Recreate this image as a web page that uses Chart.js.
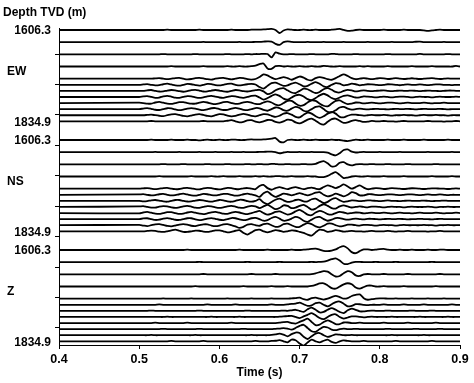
<!DOCTYPE html>
<html>
<head>
<meta charset="utf-8">
<script src="https://cdn.jsdelivr.net/npm/chart.js@4"></script>
<style>
    html, body { margin: 0; padding: 0; background: #fff; }
</style>
</head>
<body>
<canvas id="chart" width="474" height="383"></canvas>
<script>
// sampling of the traces (seconds); each trace is flat from 0.4 s up to sampleStart
const sampleStart = 0.5;
const sampleStep = 0.005;

const components = ['EW', 'NS', 'Z'];
const depths = [1606.3, 1636.8, 1667.3, 1697.7, 1728.2, 1743.5, 1758.7, 1774.0, 1789.2, 1804.4, 1819.7, 1834.9];
const timeTicks = [0.4, 0.5, 0.6, 0.7, 0.8, 0.9];
const depthTicks = [1666.4, 1742.6, 1818.8, 1895.0, 1971.2, 2047.4, 2123.6, 2199.8, 2276.0, 2352.2];

// amplitudes (positive = up), one row per receiver, 81 samples 0.5 .. 0.9 s
const ewTraces = [
    [0,0,0,0,0,0,0,0.3,0,0,  0,0,0,0,0,0.3,0,0,0,0,  0,0,0,0.3,0,0,0,0,0.3,0.4,  0.3,0.5,0.8,1,0,-2.8,-0.5,0.6,0.3,0,  0,0.3,0,0,0.4,0,0,0,0.3,0.6,  1,0,-0.8,-0.6,0,0.3,0,0,0,0,  0,0.3,0,0,0,0,0.3,0,0,0,  0,-0.4,-0.9,-0.3,0,0.3,0,0,0,0,  0],
    [0,0,0,0,0,0,0,0,0,0,  0,0,0,0,0,0,0.3,0,0,0,  0,0,0,0,0,0.3,0,0,0,0.3,  0.3,0.5,0.8,0.6,-1.5,-2.5,0,0.8,0.3,0,  0,0,0.3,0,0,0,0.3,0,0,0,  0,0.3,0,0,0,0,0,0.3,0,0,  0,0,0,0.3,0,0,0,0,0,0.4,  0.5,0,0,0,0,0,0.3,0,0,0,  0],
    [0,0,0,0,0,0,0.3,0,0,0,  0,0,0,0,0.3,0,0,0,0,0,  0,0,0.3,0,0,0,0,0.3,0,0.3,  0.3,0.5,0.3,-2.8,1.8,0.6,0,0,0.3,0,  0,0,0,0.3,0,0,0,0,0.5,0.3,  0,0,0,0,0.3,0,0,0,0,0,  0,0,0.3,0,0,0,0,0,0,0,  0.4,0,0,0,0,0,0,0.3,0,0,  0],
    [0,0,0,0,0,0,0,0,0.3,0,  0,0,0,0,0,0,0.3,0,0,0,  0,0,0.3,0,0,0.3,0,0,0.3,0.8,  2.2,2.8,-1.8,-2.2,0.3,0.6,0,0.3,0,0,  0.3,0,0,0.4,0,0,0.5,0.3,0,0,  0.3,0,0,0,0,0.3,0,0.4,0,0,  0,0,0.3,0,0,0,0,0,0.3,0,  0,0,0,0.3,0,0,0,0,0,0.5,  0],
    [0,0,0,0,0.3,0.5,0,-0.5,0,0.6,  0.8,0,-0.6,-0.3,0.5,0.8,0.3,-0.5,-0.8,0,  0.6,0.8,0,-0.6,0,0.8,0.5,-0.5,-0.8,-0.3,  1.5,4,3,1,-0.5,0.5,1.5,0.5,-1,0.5,  2,1,-1,-1.5,0.5,1.5,0.8,-0.5,-1,0.5,  2.5,4,2.5,0.5,-0.5,0,0.5,0,-0.5,0,  0.5,0.3,-0.3,0,0.5,0,-0.3,0,0.4,0,  -0.3,0,0.3,0.5,0,-0.3,0,0.3,0,0,  0],
    [0,0.3,0.6,0,-0.5,-0.3,0.5,1,0.3,-0.5,  -0.8,0,0.8,0.5,-0.3,-0.8,0,0.8,0.6,-0.3,  -0.6,0,0.8,1,0,-0.6,0,0.5,0.8,0.3,  -2,-3.5,-1,1.5,2,0.5,-1,-0.5,1,2,  0.5,-1.5,-1,1,2.5,1,-1.5,-2,0,1.5,  1,-0.5,0,1,0.5,-0.5,0,0.5,0.3,0,  -0.3,0,0.5,0.3,0,-0.4,0,0.3,0,0,  0.3,0,-0.3,0,0.3,0.4,0,0,-0.3,0,  0],
    [0,0,0.5,0.8,0,-0.6,-0.5,0.3,0.8,0.5,  -0.3,-0.8,-0.3,0.6,1,0.3,-0.6,-0.5,0.3,0.8,  0.3,-0.5,-0.8,0,0.8,0.5,-0.3,-0.6,0,0.6,  1,-0.5,-3,-2,0.5,2,2.5,0.5,-1.5,-2,  0,2,1.5,-0.5,-2,-1,1.5,2.5,1,-1,  -1.5,0,1,0.5,-0.5,0,0.5,0,-0.3,0,  0.3,0.5,0,-0.3,0,0.3,0,0,0.3,0,  -0.3,0,0.3,0,0,-0.3,0,0.3,0.3,0,  0],
    [0,0.5,0.8,0,-0.8,-0.5,0.5,1,0.3,-0.6,  -0.8,0,0.8,0.6,-0.3,-0.8,-0.3,0.6,1,0.3,  -0.5,-0.8,0,0.8,0.6,-0.4,-0.8,0,1,1.2,  -0.5,-2.5,-1,1,2.5,1,-1.5,-2.5,-0.5,1.5,  2,0.5,-2,-3,-1,1.5,3,1.5,-1,-2,  -0.5,1,1.5,0.5,-0.5,-0.3,0.5,0.3,0,-0.3,  0,0.4,0,-0.3,0,0.3,0.3,0,-0.3,0,  0.3,0,0,-0.3,0,0.3,0,0,0,0.3,  0],
    [0.3,0,-0.6,-0.5,0.5,1,0.3,-0.5,-0.8,0,  0.8,0.8,0,-0.6,-0.5,0.4,1,0.5,-0.5,-1,  -0.3,0.8,1,0,-0.8,-0.5,0.6,1,0.3,-0.8,  -1,0.5,1.5,0.5,-1.5,-2,0,2,2,-0.5,  -2.5,-2,0.5,2.5,2,-0.5,-2.5,-3,-0.5,2,  2.5,0.5,-1,-0.5,0.5,0.3,-0.3,0,0.4,0,  -0.3,0,0.3,0.3,0,-0.3,0,0.3,0,0,  0,0.3,0,-0.3,0,0,0.3,0,0,0,  0],
    [0,0.5,1,0.3,-0.6,-0.8,0,0.8,0.6,-0.3,  -1,-0.5,0.5,1,0.5,-0.5,-1,-0.3,0.8,1,  0,-0.8,-0.6,0.5,1.2,0.5,-0.6,-1,0,1,  0.8,-0.8,-1.5,0,1.5,1,-1,-1.5,0.5,2,  1,-1.5,-2,0,2,2.5,0,-2.5,-3,-1,  1.5,2,0.5,-0.5,0,0.5,0,-0.3,0,0.3,  0,0,-0.3,0,0.3,0,0,0.3,0,-0.3,  0,0.3,0,0,0,0.3,0,-0.3,0,0,  0],
    [0,0,0.3,0.6,0,-0.5,-0.8,0,0.8,1,  0.3,-0.6,-1,-0.3,0.6,1,0.3,-0.6,-1,0,  1,0.8,-0.3,-1,-0.6,0.5,1.2,0.5,-0.6,-1,  0,1,0.8,-0.5,-1.5,-0.5,1.5,2,0.5,-1.5,  -2,0.5,2.5,1.5,-1,-2.5,-1,1.5,3,1.5,  -1.5,-2,-0.5,0.5,0.5,0,-0.3,0,0.3,0,  0,0.3,0,-0.3,0,0,0.3,0,0,-0.3,  0,0.3,0,0,0.3,0,0,-0.3,0,0,  0],
    [0,0,0,0.3,0,0,0,0,0,0,  0,0,0,0,0,0,0.3,0,0,0,  0,0,0.5,1,0,-1,-0.5,0.8,1,-0.3,  -1,0,1.2,1,-0.6,-1.2,0,1.5,1,-1,  -2,-0.5,1.5,2.5,0.5,-2,-3,-0.5,2,2.5,  0.5,-1.5,-1,0.5,1,0.3,-0.5,-0.3,0.3,0,  0,0.3,0,0,-0.3,0,0.3,0,0,0,  0,0,0.3,0,0,0,-0.3,0,0,0.3,  0]
];

const nsTraces = [
    [0,0,0,0.3,0,0,0,0,0.3,0,  0,0,0.3,0,0,-0.3,0,0.3,0,0,  0.3,0,0,0.4,0.3,0,0,0.3,0.5,0.3,  0.3,0.5,0.8,1.2,1.8,-1.5,-2.2,0,0.3,0,  0,0.3,0,0,0.3,0,0,0,0.3,0,  0,-0.6,-1,-0.3,0.3,0,0,0.3,0,0,  0,0,0.3,0,0,0,0.3,0,0,0,  0,0.3,0,0,0,0,0,0.3,0,0,  0],
    [0,0,0,0,0.3,0,0,0,0,0,  0.3,0,0,0,0,0.3,0,0,0,0.3,  0,0,0,0.3,0,0,0.3,0,0,0,  0.3,0.3,0.5,0.5,0,-1,-0.3,0.3,0,0,  0.3,0,0,0.3,0,0,0,-0.5,-2,-3,  -1,2,2.5,0.5,-0.3,0,0.3,0,0,0,  0.3,0,0,0,0,0.3,0,0,0,0,  0,0,0.3,0,0,0,0,0,0.3,0,  0],
    [0,0,0,0,0,0,0.3,0,0,0,  0,0.3,0,0,0,0,0,0.3,0,0,  0,0,0.3,0,0,0,0,0.3,0,0,  0.3,0,0,0.5,0.3,0,0,0.3,0,0,  0,0.3,0,0,0.5,2,3,1,-2,-1.5,  1.5,2,0,-1,0,0.3,0,0,0.3,0,  0,0,0.3,0,0,0,0,0.3,0,0,  0,0,0,0,0.3,0,0,0,0,0,  0],
    [0,0,0,0,0,0.3,0,0,0,0,  0,0,0,0.3,0,0,0,0,0.3,0,  0,0.3,0,0,0,0.3,0,0,0,0.3,  0,0.3,0,0,0.3,0.4,0,0,0.3,0,  0,0,0.3,0,0,-0.5,-0.5,0.5,2.5,4,  1.5,-1.5,-1,0,0.3,0,0,0.3,0,0,  0,0.3,0,0,0,0,0.3,0,0,0,  0,0,0,0.3,0,0,0,0,0.3,0,  0],
    [0,0.3,0.6,0,-0.5,0,0.6,0.8,0,-0.5,  -0.3,0.5,0.8,0.3,-0.5,-0.6,0.3,0.8,0.5,-0.3,  -0.6,0,0.8,0.6,-0.3,-0.5,0.3,0.6,0,-0.5,  2.5,3.5,0.5,-1,0.5,1.5,0.5,-0.5,0.8,1.5,  0.5,-0.5,0.5,1,0,-0.5,1.5,3,2,0.5,  2,4,2,0,1.5,3,1,-0.5,0,0.5,  0.3,-0.3,0,0.5,0.3,0,-0.3,0,0.4,0.3,  0,-0.3,0,0.3,0.3,0,0,-0.3,0,0.3,  0],
    [0.3,0.6,0,-0.6,-0.3,0.5,0.8,0,-0.6,-0.3,  0.5,1,0.3,-0.5,-0.8,0,0.8,0.5,-0.3,-0.6,  0,0.8,0.8,0,-0.8,-0.5,0.5,1,0.3,-0.5,  -2,1.5,3,0,-2,-0.5,1,0.5,-0.5,0.5,  1.5,0.5,-0.5,0.5,2,2.5,0,-1.5,-0.5,1,  0,-1.5,0,2.5,1.5,-0.5,-0.5,0.5,0.5,0,  -0.3,0,0.3,0.3,0,-0.3,0,0.3,0.3,0,  -0.3,0,0.3,0,0,0.3,0,-0.3,0,0,  0],
    [0,-0.5,-0.3,0.5,0.8,0.3,-0.5,-0.8,0,0.8,  0.8,0,-0.6,-0.5,0.3,0.8,0.5,-0.3,-0.8,0,  0.8,0.5,-0.5,-0.8,0,1,0.8,-0.3,-0.8,0,  1.5,-1.5,-3,-1,1,2,0.5,-1,-0.5,0.8,  1,-0.5,-0.5,1.5,2,0,-2,-1,1.5,2.5,  0.5,-1,-0.5,0.5,0.3,-0.3,0,0.5,0.3,0,  -0.3,0,0.4,0,0,-0.3,0,0.3,0,0,  0,0.3,0,-0.3,0,0,0.3,0,0,0,  0],
    [0.5,0.8,0,-0.6,-0.6,0.3,0.8,0.5,-0.3,-0.8,  -0.3,0.6,1,0.3,-0.6,-0.8,0,0.8,0.6,-0.3,  -0.8,-0.3,0.6,1,0.3,-0.6,-0.8,0.3,1,0.5,  -1,0.5,2,0,-2,-1,1.5,1,-1,-0.5,  1,2,0,-2.5,-1.5,1,2.5,1,-1,-1.5,  0.5,1.5,0.5,-0.5,0,0.5,0,-0.3,0.3,0.3,  0,-0.3,0,0.3,0,0,-0.3,0,0.3,0,  0,0,0.3,0,-0.3,0,0,0.3,0,0,  0],
    [-0.3,0.5,1,0.3,-0.5,-0.8,0,0.8,0.8,0,  -0.8,-0.5,0.5,1,0.3,-0.5,-1,-0.3,0.6,1,  0.3,-0.6,-0.8,0.3,1,0.5,-0.5,-1,0,1,  2,0,-1.5,-0.5,1,1.5,0,-1.5,-0.5,1.5,  3,1,-1.5,-2,0.5,2,1,-1,-1.5,0,  1,0.5,-0.5,0,0.5,0.3,-0.3,0,0.3,0,  0,0.3,0,-0.3,0,0.3,0,0,-0.3,0,  0.3,0,0,0,0.3,0,-0.3,0,0,0.3,  0],
    [0,0.6,0.8,0,-0.8,-0.5,0.5,1,0.3,-0.6,  -0.8,0,0.8,0.8,-0.3,-1,-0.5,0.5,1,0.3,  -0.6,-1,0,1,0.8,-0.3,-1,-0.5,0.8,1.2,  0,-1.5,-1,1,2,0.5,-1.5,-1,0.5,2,  1,-1.5,-2.5,-0.5,1.5,2,0,-1.5,-0.5,1,  1,0,-0.5,0,0.5,0,-0.3,0.3,0.3,0,  -0.3,0,0.3,0,0,0.3,0,-0.3,0,0,  0.3,0,0,-0.3,0,0.3,0,0,0,0,  0],
    [0.3,-0.3,-0.8,0,0.8,1,0.3,-0.6,-1,-0.3,  0.6,1,0.5,-0.5,-0.8,0,0.8,0.8,-0.3,-0.8,  -0.3,0.8,1,0,-1,-2.5,-1.5,0.5,1,0,  -0.5,1,1.5,0,-1.5,-1,1,1.5,0,-1.5,  -1.5,0.5,2,1,-1,-2,-0.5,1.5,1.5,0,  -1,-0.5,0.5,0.5,0,-0.3,0.3,0.3,0,-0.3,  0,0.3,0,0,-0.3,0,0.3,0,0,0,  0,0.3,0,0,-0.3,0,0,0.3,0,0,  0],
    [0,0,0.3,0.6,0.3,-0.3,-0.6,0,0.8,1.5,  0.5,-0.5,-0.6,0,0.6,0.5,-0.3,-0.6,0,0.8,  0.8,0,-1,-0.5,0.5,1,-1.5,-3,-1,1,  1.5,0,-1,0,1,0.5,-0.5,0,0.8,0.5,  -0.5,-1.5,-3,-4,-1,1.5,1,-0.5,0,1,  0.5,-0.3,0,0.3,0,0,-0.3,0,0.3,0,  0,0,0.3,0,-0.3,0,0,0.3,0,0,  0,0,-0.3,0,0,0.3,0,0,0,0,  0]
];

const zTraces = [
    [0,0,0,0,0,0,0,0,0,0,  0,0,0.3,0,0,0,0,0,0,0,  0,0,0,0,0,0.3,0,0,0,0,  0,0,0.3,0,0,0,0,0,0.3,0,  0,0.3,0.5,1,1.2,0.3,-0.8,-1,-0.5,0.5,  2.5,3.5,1.5,-2,-3,-1,0.5,0.5,0,0.3,  0.8,1,0.3,0,0,0.3,0,0,0.3,0,  0,0,0.3,0,0,0.3,0.3,0,0,0,  0],
    [0,0,0,0,0,0,0,0,0,0,  0,0,0,0,0,0.3,0,0,0,0,  0,0,0,0,0,0,0,0.3,0,0,  0,0,0,0,0,0.3,0,0,0,0,  0,0,0,0.3,0,0.3,0.5,1.5,2.8,3.5,  1.5,-1.5,-1.8,-0.5,0.3,0.3,0,0,0,0.3,  0,0,0,0,0.3,0,0,0,0,0,  0,0,0,0.3,0,0,0,0,0,0,  0],
    [0,0,0,0,0,0,0,0,0,0,  0,0,0,0,0,0,0.3,0,0,0,  0,0,0,0,0,0,0,0,0.3,0,  0,0,0,0,0.3,0,0,0,0,0,  0,0,0,0.3,1,2,3,2.5,0,-2,  -1.5,1,3,2,-1,-1.5,0,0.3,0,0,  0,0.3,0,0,0,0,0,0.3,0,0,  0,0,0,0,0,0.3,0,0,0,0,  0],
    [0,0,0,0,0,0,0,0,0,0,  0,0,0,0,0.3,0,0,0,0,0,  0,0,0,0,0,0,0.3,0,0,0,  0,0,0,0.3,0,0,0,0.3,0,0,  0,0,0,0.5,1.5,2.8,3,1,-1.5,-2,  0,2,3,2,-1,-2,-0.5,0.8,0.8,0,  0,0.3,0,0,0,0,0.3,0,0,0,  0,0,0,0,0.3,0,0,0,0,0,  0],
    [0,0,0,0,0,0,0.3,0,0,0,  0,0,0,0.3,0,0,0,0,0,0,  0,0,0.3,0,0,0,0,0,0.3,0,  0,0,0,0.3,0,0,0,0,0.3,0.5,  1,-0.5,-1,0.5,1,0,-0.8,0,1.5,2.5,  1.5,0,0.5,2.5,3.5,4,0.5,-1,-0.5,0,  0.3,0.3,0,0,0.3,0,0,0,0.3,0,  0,0,0.3,0,0,0,0.3,0,0,0,  0],
    [0,0,0,0,0,0.3,0,0,0,0,  0,0,0,0,0,0,0,0.3,0,0,  0,0,0,0,0.3,0,0,0,0,0,  0,0,0,0.3,0,0,0,0.3,0.8,1,  2,0.5,-1,-0.5,1.5,2,0,-1.5,0.5,2.5,  3,1,-1.5,-1,0.5,0.5,0,-0.3,0,0,  0,0.3,0,0,0,0,0.3,0,0,0,  0,0.3,0,0,0,0,0,0,0.3,0,  0],
    [0,0,0,0.3,0,0,0,0,0,0,  0,0,0,0,0,0.3,0,0,0,0,  0,0,0,0,0,0,0,0.3,0,0,  0,0,0,0,0,0,0.3,0,0.5,1,  0,-1,1.5,3,1,-1.5,-1,1,2.5,1,  -1,-2,0.5,2,1,-0.5,-0.5,0,0.3,0,  0,0,0.3,0,0,0,0,0,0.3,0,  0,0,0,0.3,0,0,0,0,0,0,  0],
    [0,0,0,0,0,0,0,0.3,0,0,  0,0,0,0,0,0,0,0,0.3,0,  0,0,0,0,0,0.3,0,0,0,0,  0,0,0,0,0,0.3,0.5,0.8,1,0,  -1,0.5,2,3.5,1.5,-1,-2,0,2,2.5,  0,-1.5,-0.5,0.5,0.5,0,-0.3,0,0.3,0,  0,0,0,0.3,0,0,0,0,0,0,  0.3,0,0,0,0,0,0,0.3,0,0,  0],
    [0,0,0,0,0.3,0,0,0,0,0,  0,0,0.3,0,0,0,0,0,0,0,  0,0,0,0.3,0,0,0,0,0,0,  0,0,0,0,0,0.3,0.8,1,0,-0.5,  1,2.5,4,1,-2,-1.5,1,2.5,1,-1,  -1,0.5,0.5,0,0,0.3,0,0,0,0,  0,0.3,0,0,0,0,0,0.3,0,0,  0,0,0,0,0.3,0,0,0,0,0,  0],
    [0,0,0,0,0,0,0.3,0,0,0,  0,0,0,0,0,0.3,0,0,0,0,  0,0,0,0,0,0,0.3,0,0,0,  0,0,0,0,0.3,0.5,1,0.5,-0.5,1,  3,4,1,-2,-2.5,0,2,1.5,-0.5,-1,  0,0.5,0,0,0.3,0,0,0,0,0,  0,0,0.3,0,0,0,0,0,0,0.3,  0,0,0,0,0,0.3,0,0,0,0,  0],
    [0,0,0,0.3,0,0,0,0,0,0,  0,0,0,0,0.3,0,0,0,0,0,  0,0,0,0,0,0,0,0,0.3,0,  0,0,0,0.3,0.8,1.5,0.5,-1,1,2.5,  2,-1.5,-3.5,-1,1.5,2,0,-1.5,-0.5,0.8,  0.5,0,0,0.3,0,0,0,0,0,0,  0,0,0,0.3,0,0,0,0,0,0,  0,0.3,0,0,0,0,0,0,0,0,  0],
    [0,0,0,0,0,0,0,0,0.3,0,  0,0,0,0,0,0,0.3,0,0,0,  0,0,0,0,0,0,0,0,0,0.3,  0,0,0,0.3,0.5,1,0,-1,1.5,1,  -2,-4,-1,1.5,0,-1,0.5,1.5,-0.5,-1.5,  0,0.8,0.3,0,0,0,0.3,0,0,0,  0,0,0,0,0.3,0,0,0,0,0,  0,0,0,0.3,0,0,0,0,0,0,  0]
];

const GAIN = 2.7          // depth units per amplitude unit
const PANEL_SHIFT = 275.4 // vertical shift between the component panels
const FONT = '"Liberation Sans", Arial, sans-serif'

const buildTrace = (amps, base) => {
    let pts = [{x: 0.4, y: base}]
    amps.forEach((a, i) => {
        pts.push({x: +(sampleStart + i * sampleStep).toFixed(3), y: base - a * GAIN})
    })
    return pts
}

let datasets = [];
[ewTraces, nsTraces, zTraces].forEach((group, g) => {
    group.forEach((amps, k) => {
        datasets.push({
            label: components[g] + ' ' + depths[k],
            data: buildTrace(amps, depths[k] + g * PANEL_SHIFT),
            borderColor: '#000',
            borderWidth: 1.8,
            pointRadius: 0,
            tension: 0.25,
            fill: false
        })
    })
})

const labelPlugin = {
    id: 'depthLabels',
    afterDraw(chart) {
        const ctx = chart.ctx
        const y = chart.scales.y
        ctx.save()
        ctx.fillStyle = '#000'
        ctx.font = 'bold 12px ' + FONT
        ctx.textBaseline = 'middle'
        ctx.textAlign = 'left'
        ctx.fillText('Depth TVD (m)', 3, 13)
        components.forEach((name, g) => {
            const shift = g * PANEL_SHIFT
            ctx.textAlign = 'right'
            ctx.fillText(depths[0].toFixed(1), 51, y.getPixelForValue(depths[0] + shift) + 1)
            ctx.fillText(depths[depths.length - 1].toFixed(1), 51, y.getPixelForValue(depths[depths.length - 1] + shift) + 1)
            ctx.textAlign = 'left'
            ctx.fillText(name, 7, y.getPixelForValue(1711 + shift))
        })
        ctx.restore()
    }
}

new Chart(document.getElementById('chart'), {
    type: 'line',
    data: { datasets },
    plugins: [labelPlugin],
    options: {
        responsive: false,
        animation: false,
        parsing: false,
        layout: { padding: { top: 28, right: 14, bottom: 0, left: 0 } },
        plugins: { legend: { display: false }, tooltip: { enabled: false } },
        scales: {
            x: {
                type: 'linear',
                min: 0.4,
                max: 0.9,
                afterBuildTicks: s => { s.ticks = timeTicks.map(v => ({value: v})) },
                afterFit: s => { s.height = 38 },
                ticks: {
                    callback: v => v.toFixed(1),
                    color: '#000',
                    padding: 3,
                    maxRotation: 0,
                    autoSkip: false,
                    font: { family: FONT, size: 12.5, weight: 'bold' }
                },
                grid: { display: true, drawOnChartArea: false, drawTicks: true, tickLength: 4, color: '#000' },
                border: { display: true, color: '#000', width: 1 },
                title: {
                    display: true,
                    text: 'Time (s)',
                    color: '#000',
                    padding: { top: 0, bottom: 3 },
                    font: { family: FONT, size: 12, weight: 'bold' }
                }
            },
            y: {
                type: 'linear',
                reverse: true,
                min: 1601.3,
                max: 2395,
                afterBuildTicks: s => { s.ticks = depthTicks.map(v => ({value: v})) },
                afterFit: s => { s.width = 59 },
                ticks: { display: false },
                grid: { display: true, drawOnChartArea: false, drawTicks: true, tickLength: 4, color: '#000' },
                border: { display: true, color: '#000', width: 1 }
            }
        }
    }
})
</script>
</body>
</html>
